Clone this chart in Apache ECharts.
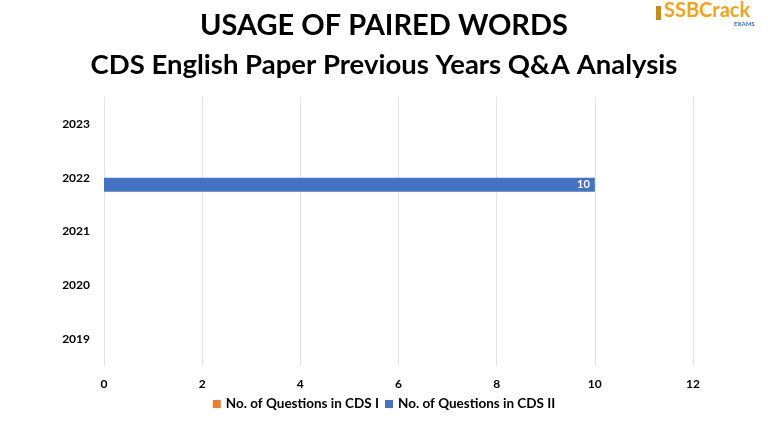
<!DOCTYPE html>
<html>
<head>
<meta charset="utf-8">
<script src="https://cdn.jsdelivr.net/npm/echarts@6/dist/echarts.min.js"></script>
<style>
  html, body { margin: 0; padding: 0; background: #fff; }
  #main { width: 768px; height: 432px; }
</style>
</head>
<body>
<div id="main"></div>
<script>
var years = ['2019', '2020', '2021', '2022', '2023']
var cdsOne = [0, 0, 0, 0, 0]
var cdsTwo = [0, 0, 0, 10, 0]
var xTicks = [0, 2, 4, 6, 8, 10, 12]

var chart = echarts.init(document.getElementById('main'))
var font = 'Lato, "Open Sans", sans-serif'

var option = {
    backgroundColor: '#fff',
    title: [
        {
            text: 'USAGE OF PAIRED WORDS',
            left: 'center',
            top: 6,
            textStyle: { fontFamily: font, fontWeight: 'bold', fontSize: 29, color: '#000' },
        },
        {
            text: 'CDS English Paper Previous Years Q&A Analysis',
            left: 'center',
            top: 46,
            textStyle: { fontFamily: font, fontWeight: 'bold', fontSize: 27.5, color: '#000' },
        },
    ],
    graphic: [
        {
            type: 'rect',
            left: 656,
            top: 6,
            shape: { width: 5, height: 14 },
            style: { fill: '#c98a1a' },
        },
        {
            type: 'text',
            left: 664,
            top: 1,
            style: { text: 'SSBCrack', fill: '#f5a31a', font: 'bold 20px ' + font },
        },
        {
            type: 'text',
            left: 734,
            top: 21,
            style: { text: 'EXAMS', fill: '#2f6fc0', font: 'bold 6px ' + font },
        },
    ],
    legend: {
        bottom: 16,
        left: 'center',
        icon: 'rect',
        itemWidth: 8,
        itemHeight: 8,
        itemGap: 6,
        textStyle: { fontFamily: font, fontWeight: 'bold', fontSize: 13.5, color: '#000' },
        data: ['No. of Questions in CDS I', 'No. of Questions in CDS II'],
    },
    grid: { left: 104, right: 75, top: 97, bottom: 66 },
    xAxis: {
        type: 'value',
        min: xTicks[0],
        max: xTicks[xTicks.length - 1],
        interval: 2,
        axisLine: { show: false },
        axisTick: { show: false },
        axisLabel: { fontFamily: font, fontWeight: 'bold', fontSize: 12, color: '#000', margin: 12 },
        splitLine: { lineStyle: { color: '#e3e3e3' } },
    },
    yAxis: {
        type: 'category',
        data: years,
        axisLine: { show: false },
        axisTick: { show: false },
        axisLabel: { fontFamily: font, fontWeight: 'bold', fontSize: 12, color: '#000', margin: 14 },
    },
    series: [
        {
            name: 'No. of Questions in CDS I',
            type: 'bar',
            data: cdsOne,
            barWidth: 14,
            barGap: '0%',
            itemStyle: { color: '#ed7d31' },
        },
        {
            name: 'No. of Questions in CDS II',
            type: 'bar',
            data: cdsTwo,
            barWidth: 14,
            barGap: '0%',
            itemStyle: { color: '#4472c4' },
            label: {
                show: true,
                position: 'insideRight',
                formatter: function (p) { return p.value ? p.value : '' },
                color: '#fff',
                fontFamily: font,
                fontWeight: 'bold',
                fontSize: 11,
            },
        },
    ],
}
chart.setOption(option)
</script>
</body>
</html>
